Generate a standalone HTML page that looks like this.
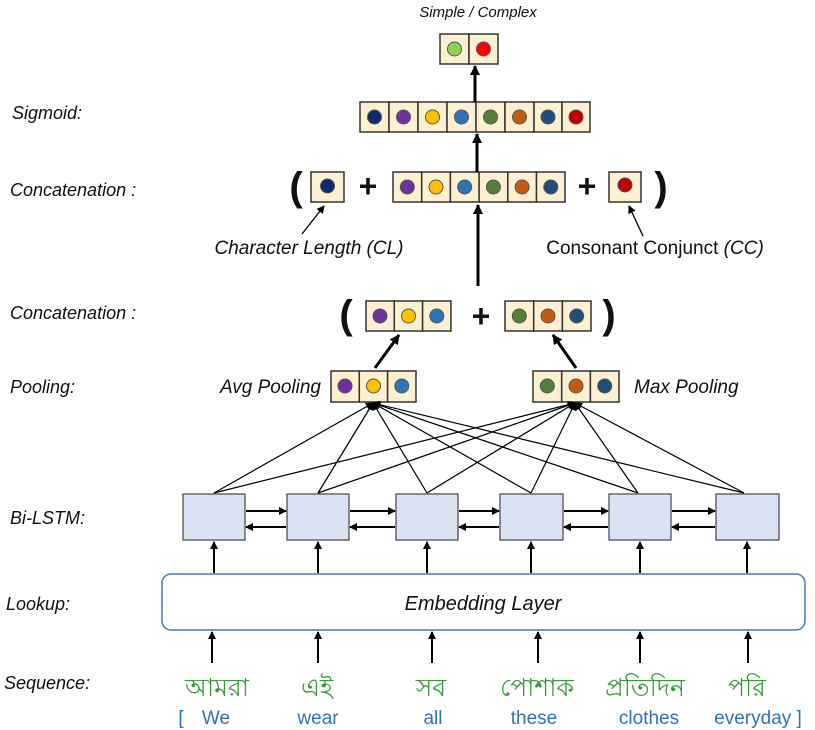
<!DOCTYPE html>
<html><head><meta charset="utf-8"><style>
html,body{margin:0;padding:0;background:#fff;}
svg{display:block;}
text{font-family:"Liberation Sans","DejaVu Sans",sans-serif;}
.it{font-style:italic;}
.lbl{font-size:18px;font-style:italic;fill:#111;}
</style></head><body>
<svg width="815" height="730" viewBox="0 0 815 730" xmlns="http://www.w3.org/2000/svg">
<defs>
<marker id="ah" markerWidth="8" markerHeight="8" refX="7" refY="4" orient="auto" markerUnits="userSpaceOnUse"><path d="M0,0 L8,4 L0,8 z" fill="#000"/></marker>
<marker id="ahs" markerWidth="10" markerHeight="10" refX="9" refY="5" orient="auto" markerUnits="userSpaceOnUse"><path d="M0,0 L10,5 L0,10 z" fill="#000"/></marker>
</defs>

<text class="lbl" x="12" y="119">Sigmoid:</text>
<text class="lbl" x="10" y="196">Concatenation :</text>
<text class="lbl" x="10" y="319">Concatenation :</text>
<text class="lbl" x="10" y="393">Pooling:</text>
<text class="lbl" x="10" y="524">Bi-LSTM:</text>
<text class="lbl" x="6" y="610">Lookup:</text>
<text class="lbl" x="4" y="689">Sequence:</text>

<text x="478" y="17" font-size="15" class="it" text-anchor="middle" fill="#111">Simple / Complex</text>

<g stroke="#333" stroke-width="1.5" fill="#fdf0d2">
<rect x="440" y="34" width="29" height="30"/><rect x="469" y="34" width="29" height="30"/>
<rect x="360" y="102" width="29" height="30"/><rect x="389" y="102" width="29" height="30"/><rect x="418" y="102" width="29" height="30"/><rect x="447" y="102" width="29" height="30"/><rect x="476" y="102" width="29" height="30"/><rect x="505" y="102" width="29" height="30"/><rect x="534" y="102" width="28" height="30"/><rect x="562" y="102" width="28" height="30"/>
<rect x="311" y="172" width="33" height="30"/>
<rect x="393" y="172" width="28.7" height="30"/><rect x="421.7" y="172" width="28.7" height="30"/><rect x="450.4" y="172" width="28.7" height="30"/><rect x="479.1" y="172" width="28.7" height="30"/><rect x="507.8" y="172" width="28.7" height="30"/><rect x="536.5" y="172" width="28.5" height="30"/>
<rect x="609" y="172" width="32" height="30"/>
<rect x="366" y="301" width="28.3" height="30"/><rect x="394.3" y="301" width="28.3" height="30"/><rect x="422.6" y="301" width="28.3" height="30"/>
<rect x="505" y="301" width="28.7" height="30"/><rect x="533.7" y="301" width="28.7" height="30"/><rect x="562.4" y="301" width="28.6" height="30"/>
<rect x="331" y="371" width="28.3" height="31"/><rect x="359.3" y="371" width="28.3" height="31"/><rect x="387.6" y="371" width="28.4" height="31"/>
<rect x="533" y="371" width="28.7" height="31"/><rect x="561.7" y="371" width="28.7" height="31"/><rect x="590.4" y="371" width="28.6" height="31"/>
</g>

<g stroke="#555" stroke-width="1">
<circle cx="454.5" cy="49" r="7" fill="#92d050"/><circle cx="483.5" cy="49" r="7" fill="#ff0000"/>
<circle cx="374.5" cy="117" r="7" fill="#0d2c6c"/><circle cx="403.5" cy="117" r="7" fill="#7030a0"/><circle cx="432.5" cy="117" r="7" fill="#ffc000"/><circle cx="461.5" cy="117" r="7" fill="#2e75b6"/><circle cx="490.5" cy="117" r="7" fill="#538135"/><circle cx="519.5" cy="117" r="7" fill="#c55a11"/><circle cx="548" cy="117" r="7" fill="#1f4e79"/><circle cx="576" cy="117" r="7" fill="#c00000"/>
<circle cx="327.5" cy="186" r="7" fill="#0d2c6c"/>
<circle cx="407.3" cy="187" r="7" fill="#7030a0"/><circle cx="436" cy="187" r="7" fill="#ffc000"/><circle cx="464.7" cy="187" r="7" fill="#2e75b6"/><circle cx="493.4" cy="187" r="7" fill="#538135"/><circle cx="522.1" cy="187" r="7" fill="#c55a11"/><circle cx="550.8" cy="187" r="7" fill="#1f4e79"/>
<circle cx="625" cy="185" r="7" fill="#c00000"/>
<circle cx="380" cy="316" r="7" fill="#7030a0"/><circle cx="408.5" cy="316" r="7" fill="#ffc000"/><circle cx="436.8" cy="316" r="7" fill="#2e75b6"/>
<circle cx="519.3" cy="316" r="7" fill="#538135"/><circle cx="548" cy="316" r="7" fill="#c55a11"/><circle cx="576.7" cy="316" r="7" fill="#1f4e79"/>
<circle cx="345" cy="386" r="7" fill="#7030a0"/><circle cx="373.5" cy="386" r="7" fill="#ffc000"/><circle cx="401.8" cy="386" r="7" fill="#2e75b6"/>
<circle cx="547.3" cy="386" r="7" fill="#538135"/><circle cx="576" cy="386" r="7" fill="#c55a11"/><circle cx="604.7" cy="386" r="7" fill="#1f4e79"/>
</g>

<g font-size="40" font-weight="bold" fill="#111" text-anchor="middle">
<text x="296" y="200">(</text><text x="661" y="200">)</text>
<text x="346" y="328">(</text><text x="609" y="328">)</text>
</g>
<g font-size="32" font-weight="bold" fill="#111" text-anchor="middle">
<text x="368" y="197">+</text><text x="587" y="197">+</text><text x="481" y="327">+</text>
</g>

<g stroke="#000" stroke-width="3" fill="none">
<line x1="475" y1="102" x2="475" y2="66" marker-end="url(#ahs)"/>
<line x1="477" y1="172" x2="477" y2="134" marker-end="url(#ahs)"/>
<line x1="478" y1="286" x2="478" y2="205" marker-end="url(#ahs)"/>
<line x1="375" y1="368" x2="399" y2="335" marker-end="url(#ahs)"/>
<line x1="576" y1="368" x2="553" y2="335" marker-end="url(#ahs)"/>
</g>
<g stroke="#000" stroke-width="1.3">
<line x1="302" y1="234" x2="324" y2="206" marker-end="url(#ah)"/>
<line x1="643" y1="236" x2="629" y2="206" marker-end="url(#ah)"/>
</g>
<text x="309" y="254" font-size="19" class="it" text-anchor="middle" fill="#111">Character Length (CL)</text>
<text x="655" y="254" font-size="19" text-anchor="middle" fill="#111">Consonant Conjunct <tspan font-style="italic">(CC)</tspan></text>

<text x="321" y="393" font-size="19" class="it" text-anchor="end" fill="#111">Avg Pooling</text>
<text x="634" y="393" font-size="19" class="it" fill="#111">Max Pooling</text>

<g stroke="#000" stroke-width="1.2" marker-end="url(#ah)">
<line x1="214" y1="493" x2="373" y2="403"/><line x1="214" y1="493" x2="575" y2="403"/>
<line x1="318" y1="493" x2="373" y2="403"/><line x1="318" y1="493" x2="575" y2="403"/>
<line x1="427" y1="493" x2="373" y2="403"/><line x1="427" y1="493" x2="575" y2="403"/>
<line x1="531" y1="493" x2="373" y2="403"/><line x1="531" y1="493" x2="575" y2="403"/>
<line x1="638" y1="493" x2="373" y2="403"/><line x1="638" y1="493" x2="575" y2="403"/>
<line x1="744" y1="493" x2="373" y2="403"/><line x1="744" y1="493" x2="575" y2="403"/>
</g>

<g fill="#dae3f3" stroke="#444" stroke-width="1.2">
<rect x="183" y="494" width="62" height="46"/><rect x="287" y="494" width="62" height="46"/><rect x="396" y="494" width="62" height="46"/><rect x="500" y="494" width="63" height="46"/><rect x="609" y="494" width="62" height="46"/><rect x="716" y="494" width="63" height="46"/>
</g>
<g stroke="#000" stroke-width="2" marker-end="url(#ah)">
<line x1="246" y1="511" x2="286" y2="511"/><line x1="286" y1="527" x2="246" y2="527"/>
<line x1="350" y1="511" x2="395" y2="511"/><line x1="395" y1="527" x2="350" y2="527"/>
<line x1="459" y1="511" x2="499" y2="511"/><line x1="499" y1="527" x2="459" y2="527"/>
<line x1="564" y1="511" x2="608" y2="511"/><line x1="608" y1="527" x2="564" y2="527"/>
<line x1="672" y1="511" x2="715" y2="511"/><line x1="715" y1="527" x2="672" y2="527"/>
<line x1="214" y1="573" x2="214" y2="542"/><line x1="318" y1="573" x2="318" y2="542"/><line x1="427" y1="573" x2="427" y2="542"/><line x1="531" y1="573" x2="531" y2="542"/><line x1="640" y1="573" x2="640" y2="542"/><line x1="747" y1="573" x2="747" y2="542"/>
<line x1="212" y1="663" x2="212" y2="632"/><line x1="318" y1="663" x2="318" y2="632"/><line x1="432" y1="663" x2="432" y2="632"/><line x1="538" y1="663" x2="538" y2="632"/><line x1="640" y1="663" x2="640" y2="632"/><line x1="748" y1="663" x2="748" y2="632"/>
</g>

<rect x="162" y="574" width="643" height="56" rx="9" fill="#fff" stroke="#4a7ab5" stroke-width="1.5"/>
<text x="483" y="610" font-size="20" class="it" text-anchor="middle" fill="#111">Embedding Layer</text>

<g font-size="25" fill="#3a9a3a" text-anchor="middle" style="font-family:'Liberation Sans','Noto Sans Bengali','Lohit Bengali',sans-serif">
<text x="217" y="696">আমরা</text><text x="317" y="696">এই</text><text x="431" y="696">সব</text><text x="537" y="696">পোশাক</text><text x="645" y="696">প্রতিদিন</text><text x="747" y="696">পরি</text>
</g>
<g font-size="19" fill="#2e75b6" text-anchor="middle">
<text x="181" y="724">[</text><text x="216" y="724">We</text><text x="318" y="724">wear</text><text x="433" y="724">all</text><text x="534" y="724">these</text><text x="649" y="724">clothes</text><text x="758" y="724">everyday ]</text>
</g>
</svg>
</body></html>
